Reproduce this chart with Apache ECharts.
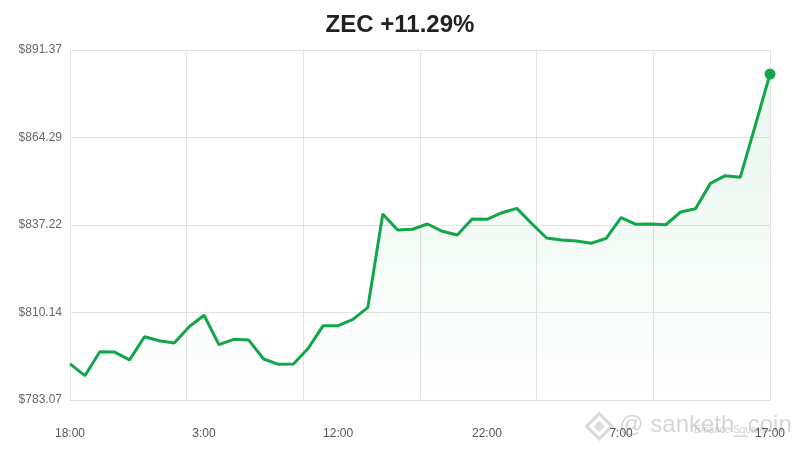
<!DOCTYPE html>
<html>
<head>
<meta charset="utf-8">
<title>ZEC</title>
<script src="https://cdn.jsdelivr.net/npm/echarts@6/dist/echarts.min.js"></script>
<style>
  html, body { margin: 0; padding: 0; background: #fff; }
  #main { width: 800px; height: 450px; }
</style>
</head>
<body>
<div id="main"></div>
<script>
// hourly points, 18:00 -> 17:00 next day
var hours = ['18:00','19:00','20:00','21:00','22:00','23:00','0:00','1:00','2:00','3:00',
  '4:00','5:00','6:00','7:00','8:00','9:00','10:00','11:00','12:00','13:00',
  '14:00','15:00','16:00','17:00','18:00','19:00','20:00','21:00','22:00','23:00',
  '0:00','1:00','2:00','3:00','4:00','5:00','6:00','7:00','8:00','9:00',
  '10:00','11:00','12:00','13:00','14:00','15:00','16:00','17:00'];
var prices = [794.26, 790.59, 798.02, 797.90, 795.50, 802.66, 801.40, 800.70, 805.75, 809.28,
  800.20, 801.85, 801.60, 795.76, 794.10, 794.20, 799.10, 806.06, 806.06, 808.00,
  811.75, 840.62, 835.67, 835.90, 837.53, 835.27, 834.13, 839.07, 838.98, 841.03,
  842.38, 837.70, 833.20, 832.58, 832.27, 831.56, 833.10, 839.48, 837.43, 837.53,
  837.30, 841.24, 842.26, 850.10, 852.48, 851.98, 867.80, 883.94];
// which category indexes get a label on the x axis
var labelIdx = [0, 9, 18, 28, 37, 47];
var yTicks = ['$783.07', '$810.14', '$837.22', '$864.29', '$891.37'];
var yMin = 783.07, yMax = 891.37;
var yStep = (yMax - yMin) / 4;

var lineColor = '#12a54a';

var chart = echarts.init(document.getElementById('main'));
var option = {
  animation: false,
  title: {
    text: 'ZEC +11.29%',
    left: 'center',
    top: 8,
    textStyle: { fontFamily: 'Liberation Sans, Arial', fontSize: 24, fontWeight: 'bold', color: '#222' }
  },
  grid: { left: 70, right: 30, top: 50, bottom: 50 },
  xAxis: [
    {
      type: 'category',
      data: hours,
      boundaryGap: false,
      axisLine: { show: true, lineStyle: { color: '#e3e3e3' } },
      axisTick: { show: false },
      axisLabel: {
        margin: 28,
        color: '#555',
        fontSize: 12,
        fontFamily: 'Liberation Sans, Arial',
        interval: function (i) { return labelIdx.indexOf(i) >= 0; }
      },
      splitLine: { show: false }
    },
    {
      // just for the evenly spaced vertical grid lines
      type: 'value',
      min: 0, max: 6, interval: 1,
      position: 'bottom',
      axisLine: { show: false },
      axisTick: { show: false },
      axisLabel: { show: false },
      splitLine: { show: true, lineStyle: { color: '#e3e3e3', width: 1 } }
    }
  ],
  yAxis: {
    type: 'value',
    min: yMin, max: yMax, interval: yStep,
    axisLine: { show: false },
    axisTick: { show: false },
    axisLabel: {
      margin: 8,
      color: '#666',
      fontSize: 12,
      fontFamily: 'Liberation Sans, Arial',
      formatter: function (v) { return yTicks[Math.round((v - yMin) / yStep)]; }
    },
    splitLine: { lineStyle: { color: '#e3e3e3', width: 1 } }
  },
  series: [
    {
      type: 'line',
      data: prices,
      showSymbol: false,
      lineStyle: { color: lineColor, width: 3 },
      areaStyle: {
        color: new echarts.graphic.LinearGradient(0, 0, 0, 1, [
          { offset: 0, color: 'rgba(18,165,74,0.14)' },
          { offset: 1, color: 'rgba(18,165,74,0.0)' }
        ])
      },
      z: 3
    },
    {
      type: 'scatter',
      data: [[hours.length - 1, prices[prices.length - 1]]],
      symbolSize: 11,
      itemStyle: { color: lineColor, opacity: 1 },
      z: 4
    }
  ],
  graphic: [
    {
      type: 'group',
      left: 583, top: 410,
      silent: true,
      children: [
        { type: 'rect', shape: { x: -9, y: -9, width: 18, height: 18 }, x: 13, y: 16, rotation: Math.PI / 4,
          style: { fill: 'none', stroke: 'rgba(160,160,160,0.4)', lineWidth: 3 } },
        { type: 'rect', shape: { x: -4, y: -4, width: 8, height: 8 }, x: 13, y: 16, rotation: Math.PI / 4,
          style: { fill: 'rgba(160,160,160,0.35)' } },
        { type: 'text', x: 33, y: 3,
          style: { text: '@ sanketh_coin', fontSize: 24, fontFamily: 'Liberation Sans, Arial', fill: 'rgba(150,150,150,0.4)' } },
        { type: 'text', x: 108, y: 15,
          style: { text: 'Binance Square', fontSize: 10, fontFamily: 'Liberation Sans, Arial', fill: 'rgba(150,150,150,0.45)' } }
      ]
    }
  ]
};
chart.setOption(option);
window.addEventListener('resize', function () { chart.resize(); });
</script>
</body>
</html>
